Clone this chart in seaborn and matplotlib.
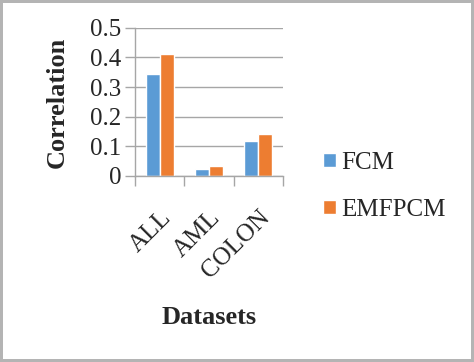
import matplotlib
matplotlib.use("Agg")
import matplotlib.pyplot as plt
import seaborn as sns
import pandas as pd

datasets = ["ALL", "AML", "COLON"]
fcm = [0.345, 0.023, 0.118]
emfpcm = [0.412, 0.032, 0.140]
methods = ["FCM", "EMFPCM"]
colores = ["#5B9BD5", "#ED7D31"]

dados = pd.DataFrame({
    "Dataset": datasets * 2,
    "Correlation": fcm + emfpcm,
    "Method": ["FCM"] * len(datasets) + ["EMFPCM"] * len(datasets),
})

sns.set_style("white")
plt.rcParams["font.family"] = ["Liberation Serif", "DejaVu Serif"]

fig = plt.figure(figsize=(4.74, 3.62), dpi=100)
fig.patch.set_edgecolor("#b4b4b4")
fig.patch.set_linewidth(4)
ax = fig.add_axes([0.285, 0.514, 0.312, 0.409])

sns.barplot(data=dados, x="Dataset", y="Correlation", hue="Method",
            hue_order=methods, palette=colores, width=0.57, saturation=1,
            ax=ax)

grid = "#a6a6a6"
ax.set_ylim(0, 0.5)
ax.set_yticks([0, 0.1, 0.2, 0.3, 0.4, 0.5])
ax.set_yticklabels(["0", "0.1", "0.2", "0.3", "0.4", "0.5"])
ax.yaxis.grid(True, color=grid, linewidth=1)
ax.set_axisbelow(True)
ax.set_xlim(-0.5, 2.5)
for lado in ["top", "right"]:
    ax.spines[lado].set_visible(False)
for lado in ["left", "bottom"]:
    ax.spines[lado].set_color(grid)
    ax.spines[lado].set_linewidth(1)

ax.set_xticks([-0.5, 0.5, 1.5, 2.5])
ax.set_xticklabels([])
ax.set_xticks([0, 1, 2], minor=True)
ax.set_xticklabels(datasets, minor=True, rotation=45, ha="right",
                   rotation_mode="anchor", fontsize=18)
ax.tick_params(axis="x", which="major", length=7, color=grid, width=1,
               direction="out", bottom=True)
ax.tick_params(axis="x", which="minor", length=0, pad=22)
ax.tick_params(axis="y", length=7, color=grid, width=1, direction="out",
               left=True, labelsize=18, pad=3)

ax.set_ylabel("Correlation", fontsize=19, fontweight="bold", labelpad=15)
ax.set_xlabel("")
fig.text(0.441, 0.124, "Datasets", fontsize=19, fontweight="bold",
         ha="center", va="center")

handles, labels = ax.get_legend_handles_labels()
ax.legend_.remove()
fig.legend(handles, labels, loc="center left", bbox_to_anchor=(0.635, 0.485),
           frameon=False, fontsize=18, handlelength=0.5, handleheight=0.5,
           handletextpad=0.2, labelspacing=1.0)

fig.savefig("out.png", dpi=100, edgecolor=fig.get_edgecolor())
